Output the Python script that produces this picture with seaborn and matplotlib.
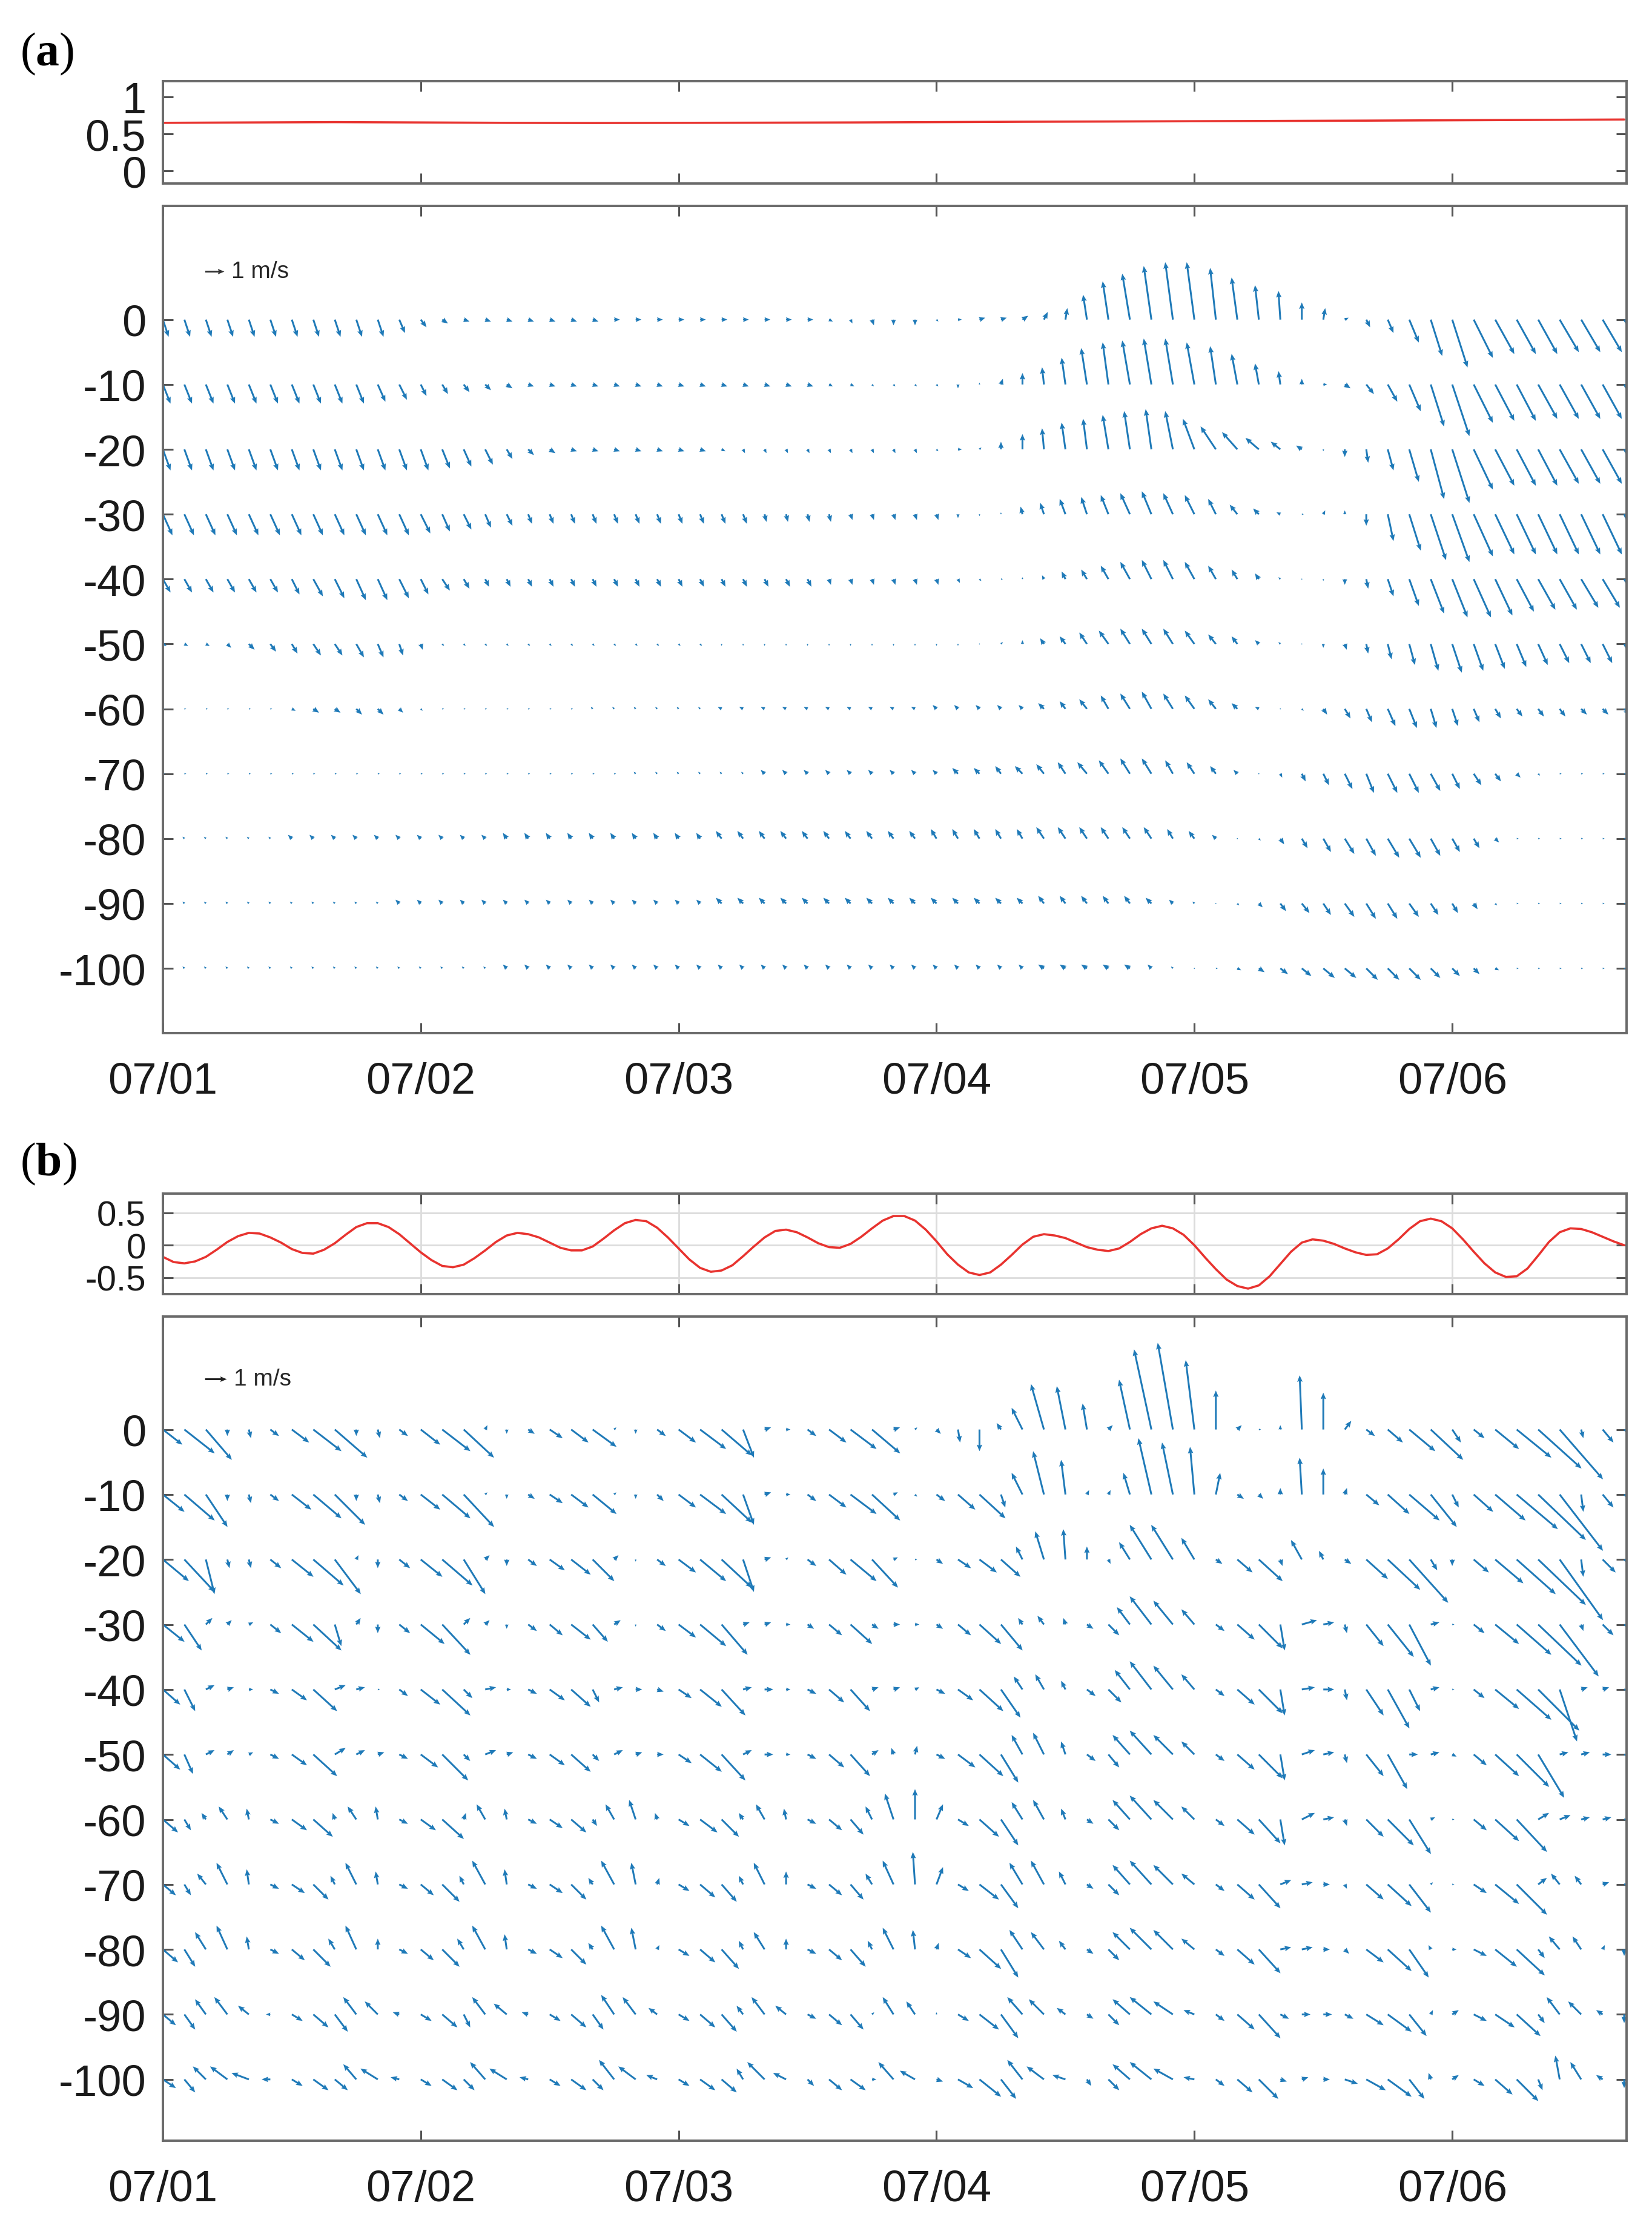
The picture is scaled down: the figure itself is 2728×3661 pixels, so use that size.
import matplotlib
matplotlib.use("Agg")
import matplotlib.pyplot as plt
import seaborn as sns

# ------------------------------------------------------------------ data
date_labels = ["07/01", "07/02", "07/03", "07/04", "07/05", "07/06"]
depths = [0, -10, -20, -30, -40, -50, -60, -70, -80, -90, -100]
depth_labels = ["0", "-10", "-20", "-30", "-40", "-50", "-60", "-70", "-80", "-90", "-100"]

# sea level, panel (a) (every 8 h)
sl_a_hours = [0, 8, 16, 24, 32, 40, 48, 56, 64, 72, 80, 88, 96, 104, 112, 120, 128, 136]
sl_a = [0.65, 0.655, 0.66, 0.655, 0.65, 0.648, 0.65, 0.652, 0.655, 0.66, 0.665, 0.668,
        0.672, 0.676, 0.68, 0.685, 0.69, 0.695]

# sea level, panel (b) (hourly, 0..136 h)
sl_b = [-0.18, -0.26, -0.28, -0.25, -0.18, -0.07, 0.05, 0.14, 0.19, 0.18, 0.12, 0.04,
        -0.06, -0.12, -0.13, -0.07, 0.03, 0.16, 0.28, 0.34, 0.34, 0.28, 0.17, 0.03,
        -0.11, -0.23, -0.32, -0.34, -0.30, -0.20, -0.08, 0.05, 0.15, 0.19, 0.17, 0.12,
        0.04, -0.04, -0.08, -0.08, -0.02, 0.10, 0.23, 0.34, 0.39, 0.37, 0.27, 0.12,
        -0.05, -0.22, -0.35, -0.41, -0.39, -0.31, -0.17, -0.02, 0.12, 0.22, 0.24, 0.20,
        0.12, 0.03, -0.03, -0.04, 0.02, 0.13, 0.26, 0.38, 0.45, 0.45, 0.38, 0.24,
        0.06, -0.14, -0.30, -0.42, -0.46, -0.42, -0.30, -0.15, 0.01, 0.13, 0.17, 0.15,
        0.11, 0.04, -0.03, -0.07, -0.09, -0.05, 0.05, 0.17, 0.26, 0.30, 0.26, 0.16,
        0.00, -0.19, -0.37, -0.53, -0.63, -0.67, -0.62, -0.48, -0.29, -0.10, 0.04, 0.09,
        0.07, 0.02, -0.05, -0.11, -0.15, -0.14, -0.05, 0.09, 0.25, 0.37, 0.41, 0.37,
        0.26, 0.09, -0.10, -0.28, -0.42, -0.49, -0.48, -0.36, -0.16, 0.05, 0.20, 0.26,
        0.25, 0.20, 0.13, 0.06, 0.00]

# current vectors every 2 h (0..136 h), in units of 0.1 m/s
# ---- panel (a)
ua_0 = [3,3,3,3,3,3,3,3,3,3, 3,3,3,3,3,3,3,3,3,3, 3,3,3,3,3,3,3,3,3,3,
        3,2,1,1,0,0,1,2,3,3, 3,2,1,-2,-3,-4,-4,-4,-4,-3, -3,-2,-1,0,1,2,2,3,5,6,
        8,10,10,10,10,10,10,10,10]
va_0 = [-9,-9,-9,-9,-9,-9,-9,-9,-9,-9, -9,-7,-4,-2,-1,-1,-1,-1,-1,-1, -1,0,0,0,0,0,0,0,0,0,
        0,-1,-2,-3,-3,-3,-1,0,1,1, 2,4,6,13,20,24,28,30,30,27, 22,18,15,9,6,1,-4,-7,-12,-19,
        -25,-20,-18,-18,-18,-17,-17,-17,-17]
ua_10 = [4,4,4,4,4,4,4,4,4,4, 4,4,3,3,3,3,3,3,3,3, 3,3,3,3,3,3,3,3,3,3,
         3,2,2,1,1,1,1,0,0,1, 0,-1,-2,-3,-3,-4,-4,-4,-4,-3, -3,-2,-1,0,2,3,4,5,6,7,
         9,10,10,10,10,10,10,10,10]
va_10 = [-10,-10,-10,-10,-10,-10,-10,-10,-10,-10, -9,-8,-6,-5,-4,-3,-2,-1,-1,-1,
         -1,-1,-1,-1,-1,-1,-1,-1,-1,-1, -1,-1,-1,-1,-1,-1,-1,-2,1,3,
         6,9,14,19,22,23,24,24,22,20, 16,11,7,3,0,-2,-5,-9,-14,-22,
         -27,-20,-19,-19,-18,-18,-18,-18,-18]
ua_20 = [4,4,4,4,4,4,4,4,4,4, 4,4,4,4,4,4,3,3,3,3, 3,3,3,3,3,3,2,1,1,1,
         1,1,1,1,1,1,1,2,1,0, 0,-1,-2,-2,-3,-3,-3,-4,-6,-8, -8,-7,-5,-3,0,0,1,3,5,7,
         9,10,10,10,10,10,10,10,10]
va_20 = [-11,-11,-11,-11,-11,-11,-11,-11,-11,-11, -11,-11,-11,-10,-9,-8,-5,-3,-2,-1,
         -1,-1,-1,-1,-1,-1,-1,-2,-2,-2, -2,-2,-2,-2,-2,-2,-1,0,1,4,
         8,11,14,16,18,20,21,20,16,12, 9,6,4,2,-1,-4,-7,-11,-17,-26,
         -28,-21,-19,-19,-19,-18,-18,-18,-18]
ua_30 = [5,5,5,5,5,5,5,5,5,5, 5,5,5,4,4,3,3,2,2,2, 2,2,2,2,2,2,2,2,1,1,
         1,1,1,1,1,1,1,0,0,0, -1,-2,-3,-3,-4,-5,-5,-5,-5,-4, -4,-3,-2,1,1,0,0,3,6,8,
         9,10,10,10,10,10,10,10,10]
va_30 = [-11,-11,-11,-11,-11,-11,-11,-11,-11,-11, -11,-11,-10,-9,-8,-7,-6,-5,-5,-5,
         -5,-5,-5,-5,-5,-5,-5,-5,-4,-4, -4,-4,-3,-3,-3,-3,-3,-2,-1,1,
         4,6,8,9,10,11,12,11,10,8, 5,3,1,0,2,2,-6,-14,-19,-24,
         -25,-22,-21,-21,-21,-21,-21,-21,-21]
ua_40 = [4,4,4,4,4,4,4,5,5,5, 5,5,4,4,3,2,2,2,2,2, 2,2,2,2,2,2,2,2,2,2,
         2,1,1,1,1,1,1,1,1,1, 0,-1,-2,-3,-4,-5,-5,-5,-5,-4, -3,-2,-1,0,0,0,1,3,5,7,
         8,9,9,9,9,9,9,9,9]
va_40 = [-7,-7,-7,-7,-7,-7,-8,-9,-10,-11, -11,-10,-8,-6,-5,-4,-4,-4,-4,-4,
         -4,-4,-4,-4,-4,-4,-4,-4,-4,-4, -4,-3,-3,-3,-3,-3,-3,-2,-1,0,
         1,2,4,5,7,9,10,10,9,7, 5,3,1,0,-1,-3,-5,-9,-14,-18,
         -20,-20,-19,-17,-16,-16,-15,-15,-15]
ua_50 = [2,2,2,2,3,3,3,4,4,4, 3,2,1,1,1,1,1,1,1,1, 1,1,1,1,1,1,0,0,0,0,
         0,0,0,0,0,0,0,0,0,1, 0,-2,-3,-4,-5,-5,-5,-5,-5,-4, -3,-2,-1,0,0,1,1,2,3,4,
         5,5,5,5,5,5,5,5,5]
va_50 = [-1,-1,-1,-2,-3,-4,-5,-6,-6,-7, -7,-6,-3,-1,-1,-1,-1,-1,-1,-1,
         -1,-1,-1,-1,-1,-1,-1,-1,-1,-1, -1,-1,-1,-1,-1,-1,-1,-1,0,1,
         2,3,4,6,7,8,8,8,7,5, 4,2,1,0,-2,-3,-5,-8,-11,-14,
         -15,-14,-13,-12,-11,-10,-10,-10,-9]
ua_60 = [1,1,1,1,1,1,2,3,3,3, 3,2,1,1,1,1,1,1,1,1, -1,-1,-1,-1,-1,-1,-2,-2,-2,-2,
         -2,-2,-2,-2,-2,-2,-2,-2,-2,-2, -2,-3,-3,-4,-4,-5,-5,-5,-5,-4, -3,-2,0,1,2,3,3,4,4,3,
         3,3,3,3,3,3,3,3,3]
va_60 = [0,0,0,0,0,0,-1,-2,-2,-3, -3,-2,-1,0,0,0,0,0,0,0, 1,1,1,1,1,1,1,1,1,1,
         1,1,1,1,1,1,2,2,2,2, 2,3,4,5,7,8,9,8,7,5, 3,1,0,-1,-3,-5,-7,-9,-10,-10,
         -9,-7,-5,-4,-4,-4,-3,-3,-3]
ua_70 = [1,1,1,1,1,1,1,1,1,1, 1,1,1,1,1,1,1,1,1,1, 1,1,-1,-1,-1,-1,-1,-1,-2,-2,
         -2,-2,-2,-2,-2,-2,-2,-3,-3,-3, -4,-4,-4,-5,-5,-5,-5,-4,-4,-3, -2,0,1,2,3,4,4,5,5,5,
         4,4,3,2,1,1,1,1,1]
va_70 = [0,0,0,0,0,0,0,0,0,0, 0,0,0,0,0,0,0,0,0,0, 0,0,1,1,1,1,1,1,2,2,
         2,2,2,2,2,2,2,3,3,4, 4,5,6,6,7,8,8,7,6,4, 2,0,-2,-4,-6,-8,-10,-10,-10,-9,
         -8,-6,-4,-2,-1,0,0,0,0]
ua_80 = [-1,-1,-1,-1,-1,-1,-2,-2,-2,-2, -2,-2,-2,-2,-2,-2,-2,-2,-2,-2, -2,-2,-2,-2,-2,-2,-3,-3,-3,-3,
         -3,-3,-3,-3,-3,-3,-3,-3,-3,-3, -3,-4,-4,-4,-4,-4,-4,-3,-3,-2, 0,1,2,3,4,5,5,6,6,5,
         4,3,2,1,1,1,1,1,1]
va_80 = [1,1,1,1,1,1,2,2,2,2, 2,2,2,2,2,2,3,3,3,3, 3,3,3,3,3,3,4,4,4,4,
         4,4,4,4,4,4,5,5,5,5, 5,6,6,6,6,6,6,5,4,2, 0,-1,-3,-5,-7,-8,-9,-10,-10,-9,
         -7,-5,-2,0,0,0,0,0,0]
ua_90 = [-1,-1,-1,-1,-1,-1,-1,-1,-1,-1, -1,-2,-2,-2,-2,-2,-2,-2,-2,-2, -2,-2,-2,-2,-2,-2,-3,-3,-3,-3,
         -3,-3,-3,-3,-3,-3,-3,-3,-3,-3, -3,-3,-3,-3,-3,-3,-3,-2,-1,0, 1,2,3,4,4,5,5,5,5,4,
         3,2,1,1,1,1,1,1,1]
va_90 = [1,1,1,1,1,1,1,1,1,1, 1,2,2,2,2,2,2,2,2,2, 2,2,2,2,2,2,3,3,3,3,
         3,3,3,3,3,3,3,3,3,3, 3,4,4,4,4,4,3,2,1,0, -1,-2,-4,-5,-6,-7,-8,-8,-7,-6,
         -5,-3,-1,0,0,0,0,0,0]
ua_100 = [-1,-1,-1,-1,-1,-1,-1,-1,-1,-1, -1,-1,-1,-1,-1,-1,-2,-2,-2,-2, -2,-2,-2,-2,-2,-2,-2,-2,-2,-2,
          -2,-2,-2,-2,-2,-2,-2,-2,-2,-2, -2,-3,-3,-3,-3,-3,-2,-1,0,1, 2,3,4,5,6,6,6,6,6,5,
          4,3,2,1,1,1,1,1,1]
va_100 = [1,1,1,1,1,1,1,1,1,1, 1,1,1,1,1,1,2,2,2,2, 2,2,2,2,2,2,2,2,2,2,
          2,2,2,2,2,2,2,2,2,2, 2,2,2,2,2,2,2,1,0,0, -1,-2,-3,-4,-5,-5,-6,-6,-6,-5,
          -4,-3,-1,0,0,0,0,0,0]

# ---- panel (b)
ub_0 = [9,14,12,0,1,4,8,13,15,0, 1,4,9,13,14,1,0,3,6,8, 11,1,0,4,8,12,14,5,3,2,
        4,8,12,13,3,1,2,1,0,-2, -5,-6,-4,-2,2,-5,-8,-7,-4,0, 2,1,0,-1,0,3,4,7,12,15,
        4,5,11,16,20,20,1,5,10]
vb_0 = [-7,-11,-14,-3,-4,-3,-6,-10,-13,-3, -4,-3,-7,-10,-13,2,-2,-2,-4,-6, -8,1,-2,-3,-6,-9,-12,-13,1,0,
        -3,-6,-9,-11,1,1,-2,-6,-10,3, 10,21,20,12,2,23,37,40,32,18, 2,0,2,25,17,4,-3,-6,-10,-14,
        -6,-4,-9,-13,-18,-23,-4,-6,-9]
ub_10 = [10,14,10,0,1,4,9,13,14,0, 1,4,9,13,14,1,0,3,6,8, 11,1,0,3,8,12,14,5,3,2,
         4,8,12,13,2,1,4,8,12,2, -5,-5,-2,1,1,-3,-6,-5,-2,2, 3,2,0,-1,0,1,6,10,14,12,
         3,9,14,19,22,20,1,5,11]
vb_10 = [-8,-12,-15,-3,-4,-3,-7,-11,-14,-3, -4,-3,-7,-11,-15,1,-2,-2,-4,-6, -9,1,-2,-3,-6,-9,-13,-14,1,0,
         -3,-6,-9,-12,1,-1,-3,-7,-11,-6, 10,20,16,2,2,10,26,24,22,10, -2,-2,3,17,12,3,-5,-9,-12,-15,
         -6,-8,-12,-16,-21,-26,-8,-6,-10]
ub_20 = [12,14,4,1,1,5,10,14,12,1, 0,5,10,14,10,2,0,4,7,9, 10,2,0,4,8,12,14,5,3,1,
         4,8,12,12,2,1,3,6,8,9, -3,-4,-1,0,1,-5,-10,-10,-6,3, 7,11,1,-5,-2,3,10,15,18,3,
         0,7,13,18,22,20,1,6,10]
vb_20 = [-10,-15,-16,-4,-4,-4,-8,-12,-16,2, -4,-4,-8,-12,-16,2,-3,-3,-5,-7, -10,2,-1,-3,-6,-10,-13,-15,1,1,
         -3,-7,-10,-13,1,0,-2,-4,-6,-8, 6,13,14,6,-2,8,16,16,10,-2, -6,-10,-3,9,4,-2,-9,-14,-20,-5,
         -3,-6,-11,-16,-21,-28,-8,-6,-9]
ub_30 = [10,8,3,2,2,5,10,13,3,2, 0,5,11,13,3,2,0,4,6,9, 7,3,0,4,8,12,12,3,3,2,
         3,6,10,3,3,2,3,6,10,10, -2,-3,-1,3,5,-6,-10,-9,-6,4, 8,11,2,7,5,1,8,12,10,4,
         1,5,11,16,20,18,1,5,9]
vb_30 = [-8,-12,3,2,1,-4,-8,-12,-10,3, -4,-4,-9,-14,3,2,-2,-3,-5,-7, -8,2,-1,-3,-6,-10,-14,1,1,0,
         -2,-5,-9,-2,0,0,-2,-5,-9,-12, 3,4,3,-2,-5,8,13,11,7,-3, -7,-11,-12,2,1,-4,-10,-15,-19,1,
         0,-4,-9,-14,-19,-24,-3,-5,-7]
ub_40 = [8,5,4,3,2,4,7,11,5,4, 1,4,9,13,4,5,2,4,7,9, 3,4,3,3,6,10,11,4,4,2,
         4,7,9,3,3,2,4,7,11,9, -4,-4,-2,4,6,-7,-10,-9,-6,4, 8,11,2,6,5,1,8,10,5,4,
         1,5,11,16,19,8,3,3,5]
vb_40 = [-7,-10,2,1,0,-2,-5,-10,2,1, 0,-3,-7,-12,-4,1,0,-2,-5,-8, -6,1,0,-1,-4,-8,-12,1,0,0,
         -2,-6,-10,1,1,1,-2,-5,-10,-13, 6,7,4,-3,-6,9,13,11,7,-3, -7,-11,-12,1,0,-5,-12,-18,-10,1,
         0,-4,-9,-14,-19,-24,1,1,-1]
ub_50 = [8,4,4,3,2,4,7,11,5,4, 3,4,8,12,3,5,3,4,7,9, 3,4,3,3,6,10,11,4,4,2,
         4,7,9,3,-1,1,4,8,11,8, -5,-5,-2,4,5,-8,-10,-9,-6,4, 8,11,2,6,5,1,8,9,4,4,
         2,6,11,15,12,4,4,4,6]
vb_50 = [-7,-9,2,2,1,-2,-5,-10,3,2, 1,-2,-6,-12,-3,2,1,-2,-5,-8, -3,2,1,0,-4,-8,-12,2,0,0,
         -2,-6,-10,2,3,4,-2,-6,-10,-13, 9,10,6,-3,-6,9,11,9,6,-3, -7,-11,-12,2,1,-4,-10,-16,0,1,
         -1,-5,-10,-15,-20,1,1,0,-2]
ub_60 = [7,3,-2,-4,-1,4,7,9,-1,-4, -1,4,7,10,1,-4,-1,4,6,7, 2,-4,-3,-1,5,8,8,-2,-4,-1,
         4,6,6,-3,-4,0,3,5,9,8, -5,-5,-2,3,5,-8,-10,-9,-6,4, 8,10,2,6,5,1,8,12,10,2,
         1,6,11,14,5,5,4,4,5]
vb_60 = [-6,-5,3,6,5,-2,-5,-8,3,6, 6,-2,-5,-9,3,7,5,-2,-4,-6, -3,7,9,3,-3,-6,-8,3,7,5,
         -2,-5,-7,6,12,14,7,-3,-8,-12, 8,9,5,-2,-5,9,11,9,6,-3, -7,-11,-12,3,1,-3,-8,-12,-16,1,
         0,-5,-10,-15,3,2,1,1,0]
ub_70 = [6,3,-4,-5,-1,4,6,7,-2,-5, -1,4,6,8,-2,-6,-1,4,6,7, -2,-6,-2,1,5,7,7,-2,-5,0,
         4,6,6,-3,-5,-1,3,5,9,8, -6,-6,-3,3,5,-8,-10,-9,-6,4, 8,10,5,5,3,1,8,11,10,1,
         1,6,11,14,4,-4,-3,3,5]
vb_70 = [-5,-5,5,10,7,-2,-4,-7,4,10, 6,-2,-5,-8,4,11,7,-2,-4,-7, 3,11,10,3,-3,-6,-8,4,10,6,
         -2,-5,-7,5,11,15,8,-3,-7,-11, 10,11,6,-2,-5,9,11,9,5,-3, -7,-11,2,1,0,-2,-7,-10,-13,1,
         0,-4,-9,-14,3,5,4,1,0]
ub_80 = [7,5,-5,-5,-1,4,6,8,-3,-5, 0,4,6,8,-3,-6,-1,4,6,7, -2,-6,-2,1,5,7,8,-2,-5,0,
         4,6,7,-2,-5,-1,1,6,10,8, -6,-6,-3,3,5,-8,-10,-9,-6,4, 8,10,5,5,3,2,8,11,9,-1,
         2,6,10,13,3,-5,-4,1,0]
vb_80 = [-6,-8,8,11,6,-2,-5,-8,5,11, 5,-2,-5,-8,5,11,7,-2,-4,-7, 3,11,10,2,-3,-6,-9,4,8,5,
         -2,-5,-8,4,10,9,3,-4,-9,-13, 9,8,4,-2,-5,8,10,9,5,-3, -7,-11,1,1,0,-2,-6,-10,-13,2,
         0,-3,-8,-12,-4,6,6,2,-3]
ub_90 = [6,5,-5,-6,-5,-2,5,7,6,-6, -6,-3,5,7,3,-6,-6,-3,5,7, 5,-6,-6,-4,5,7,7,-3,-6,-5,
         4,6,6,1,-5,-4,0,5,9,8, -7,-7,-4,3,5,-8,-10,-9,-5,4, 8,10,4,4,4,4,8,11,8,1,
         3,6,9,11,3,-6,-6,-3,0]
vb_90 = [-5,-7,7,8,4,0,-3,-6,-8,8, 6,1,-3,-6,-6,8,5,1,-3,-6, -7,9,8,3,-3,-6,-8,4,8,4,
         -2,-5,-7,1,8,6,1,-3,-7,-11, 8,7,3,-2,-5,7,8,6,2,-3, -7,-11,-2,0,0,-2,-5,-8,-10,2,
         2,-3,-6,-10,-4,8,6,2,-4]
ub_100 = [6,5,-6,-8,-8,-4,5,7,6,-6, -8,-4,5,7,5,-7,-8,-4,5,7, 5,-7,-8,-5,5,7,7,-3,-8,-6,
          3,6,7,2,-7,-7,3,7,10,7, -7,-8,-6,2,5,-8,-10,-9,-5,4, 7,9,3,3,3,6,9,11,7,-1,
          3,5,8,10,2,-2,-5,-3,0]
vb_100 = [-4,-6,6,6,3,0,-3,-5,-5,7, 5,1,-3,-5,-5,8,5,1,-3,-5, -5,9,6,2,-3,-5,-6,5,8,3,
          -3,-5,-5,0,8,4,-1,-4,-8,-9, 9,6,2,-3,-5,7,8,5,1,-3, -6,-9,-1,1,0,-2,-5,-8,-9,3,
          2,-3,-7,-10,-5,11,8,2,-4]

U_A = [ua_0, ua_10, ua_20, ua_30, ua_40, ua_50, ua_60, ua_70, ua_80, ua_90, ua_100]
V_A = [va_0, va_10, va_20, va_30, va_40, va_50, va_60, va_70, va_80, va_90, va_100]
U_B = [ub_0, ub_10, ub_20, ub_30, ub_40, ub_50, ub_60, ub_70, ub_80, ub_90, ub_100]
V_B = [vb_0, vb_10, vb_20, vb_30, vb_40, vb_50, vb_60, vb_70, vb_80, vb_90, vb_100]

arrow_hours = list(range(0, 137, 2))
sl_b_hours = list(range(0, 137))

# ------------------------------------------------------------------ style
sns.set_theme(style="white")
plt.rcParams['font.family'] = ['Liberation Sans', 'DejaVu Sans']
plt.rcParams['axes.unicode_minus'] = False
plt.rcParams['mathtext.fontset'] = 'custom'
plt.rcParams['mathtext.rm'] = 'Liberation Serif'
plt.rcParams['mathtext.bf'] = 'Liberation Serif:bold'

BLUE = '#1f7ab8'
RED = '#e8332f'
SPINE = '#6a6a6a'
TXT = '#1a1a1a'
XMAX = 5.676

fig = plt.figure(figsize=(13.64, 18.31), dpi=200, facecolor='white')

L, W = 0.0986, 0.886
ax_a_top = fig.add_axes([L, 0.917, W, 0.046])
ax_a = fig.add_axes([L, 0.5338, W, 0.373])
ax_b_top = fig.add_axes([L, 0.4163, W, 0.0453])
ax_b = fig.add_axes([L, 0.0345, W, 0.3716])


def style_axes(ax, xlabels, ysize=26):
    for s in ax.spines.values():
        s.set_visible(True)
        s.set_color(SPINE)
        s.set_linewidth(1.4)
    ax.set_xlim(0, XMAX)
    ax.set_xticks(range(6))
    if xlabels:
        ax.set_xticklabels(date_labels)
    else:
        ax.set_xticklabels([])
    ax.tick_params(axis='both', direction='in', length=6, width=1.1, color='#555555',
                   top=True, right=True, bottom=True, left=True,
                   labelsize=26, labelcolor=TXT)
    ax.tick_params(axis='y', pad=10, labelsize=ysize)
    ax.tick_params(axis='x', pad=17)
    ax.set_xlabel('')
    ax.set_ylabel('')


def draw_sticks(ax, U, V, scale):
    X, Y, UU, VV = [], [], [], []
    for d, us, vs in zip(depths, U, V):
        for h, u, v in zip(arrow_hours, us, vs):
            X.append(h / 24.0)
            Y.append(d)
            UU.append(u * 0.1)
            VV.append(v * 0.1)
    q = ax.quiver(X, Y, UU, VV, angles='uv', scale_units='inches', scale=scale,
                  units='dots', width=3.0, headwidth=3.0, headlength=3.6,
                  headaxislength=3.2, minlength=0.6, pivot='tail', color=BLUE)
    return q


# ---- (a) top: sea level
sns.lineplot(x=[h / 24.0 for h in sl_a_hours], y=sl_a, ax=ax_a_top, color=RED, linewidth=1.3)
ax_a_top.set_ylim(-0.17, 1.21)
ax_a_top.set_yticks([0, 0.5, 1])
ax_a_top.set_yticklabels(['0', '0.5', '1'])
style_axes(ax_a_top, False)

# ---- (a) main: stick plot
qa = draw_sticks(ax_a, U_A, V_A, scale=6.33)
ax_a.set_ylim(-110, 17.5)
ax_a.set_yticks(depths)
ax_a.set_yticklabels(depth_labels)
style_axes(ax_a, True)
ax_a.quiverkey(qa, 0.0416, 0.921, 1.0, '1 m/s', labelpos='E', coordinates='axes',
               color='#333333', labelsep=0.06, fontproperties={'size': 14})

# ---- (b) top: sea level
sns.lineplot(x=[h / 24.0 for h in sl_b_hours], y=sl_b, ax=ax_b_top, color=RED, linewidth=1.3)
ax_b_top.set_ylim(-0.75, 0.8)
ax_b_top.set_yticks([-0.5, 0, 0.5])
ax_b_top.set_yticklabels(['-0.5', '0', '0.5'])
style_axes(ax_b_top, False, ysize=21)
ax_b_top.grid(True, color='#dcdcdc', linewidth=1.0)
ax_b_top.set_axisbelow(True)

# ---- (b) main: stick plot
qb = draw_sticks(ax_b, U_B, V_B, scale=5.59)
ax_b.set_ylim(-109.4, 17.4)
ax_b.set_yticks(depths)
ax_b.set_yticklabels(depth_labels)
style_axes(ax_b, True)
ax_b.quiverkey(qb, 0.0433, 0.924, 1.0, '1 m/s', labelpos='E', coordinates='axes',
               color='#222222', labelsep=0.06, fontproperties={'size': 14})

# ---- panel letters
fig.text(0.012, 0.9757, r'($\mathbf{a}$)', fontsize=28, family='Liberation Serif',
         va='center', ha='left', color='black')
fig.text(0.012, 0.475, r'($\mathbf{b}$)', fontsize=28, family='Liberation Serif',
         va='center', ha='left', color='black')

fig.savefig('out.png', dpi=200, facecolor='white')
